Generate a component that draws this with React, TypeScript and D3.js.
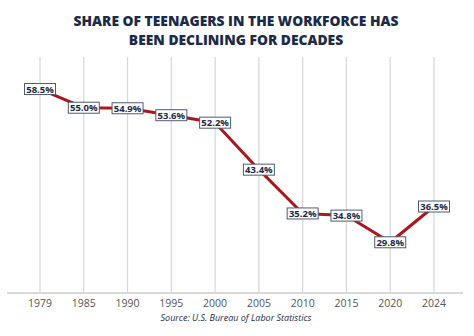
import React from "react";
import * as d3 from "d3";

const years = ["1979", "1985", "1990", "1995", "2000", "2005", "2010", "2015", "2020", "2024"];
const shares = [58.5, 55.0, 54.9, 53.6, 52.2, 43.4, 35.2, 34.8, 29.8, 36.5];
const titleLines = ["SHARE OF TEENAGERS IN THE WORKFORCE HAS", "BEEN DECLINING FOR DECADES"];
const sourceText = "Source: U.S. Bureau of Labor Statistics";

const W = 474;
const H = 336;
const navy = "#1b2a47";

export default function App() {
  const x = d3.scalePoint<string>().domain(years).range([40, 434]);
  const y = d3.scaleLinear().domain([20.3, 64.5]).range([293, 57]);
  const line = d3
    .line<number>()
    .x((_, i) => x(years[i]) as number)
    .y((d) => y(d));

  return (
    <svg
      width={W}
      height={H}
      style={{ position: "absolute", left: 0, top: 0, background: "#fff" }}
      fontFamily="'Open Sans', sans-serif"
    >
      {titleLines.map((t, i) => (
        <text
          key={i}
          x={236}
          y={26 + i * 19}
          textAnchor="middle"
          fontSize={13.8}
          fontWeight={800}
          fill={navy}
        >
          {t}
        </text>
      ))}
      {years.map((yr) => (
        <line
          key={yr}
          x1={x(yr)}
          x2={x(yr)}
          y1={57}
          y2={293}
          stroke="#d6d6d6"
          strokeWidth={1.2}
        />
      ))}
      <line x1={7} x2={463} y1={293} y2={293} stroke="#d9d9d9" strokeWidth={2} />
      {years.map((yr) => (
        <text
          key={"t" + yr}
          x={x(yr)}
          y={307}
          textAnchor="middle"
          fontSize={10.5}
          fill="#555"
        >
          {yr}
        </text>
      ))}
      <path d={line(shares) || ""} fill="none" stroke="#a8161f" strokeWidth={3} strokeLinejoin="round" />
      {shares.map((v, i) => {
        const cx = x(years[i]) as number;
        const cy = y(v);
        return (
          <g key={"l" + i}>
            <rect x={cx - 15.5} y={cy - 5.5} width={31} height={11} fill="#fff" stroke="#4d5b73" strokeWidth={1} />
            <text x={cx} y={cy + 3.5} textAnchor="middle" fontSize={9.5} fontWeight={700} fill={navy}>
              {v.toFixed(1) + "%"}
            </text>
          </g>
        );
      })}
      <text x={236} y={321} textAnchor="middle" fontSize={9} fontStyle="italic" fill={navy}>
        {sourceText}
      </text>
    </svg>
  );
}
